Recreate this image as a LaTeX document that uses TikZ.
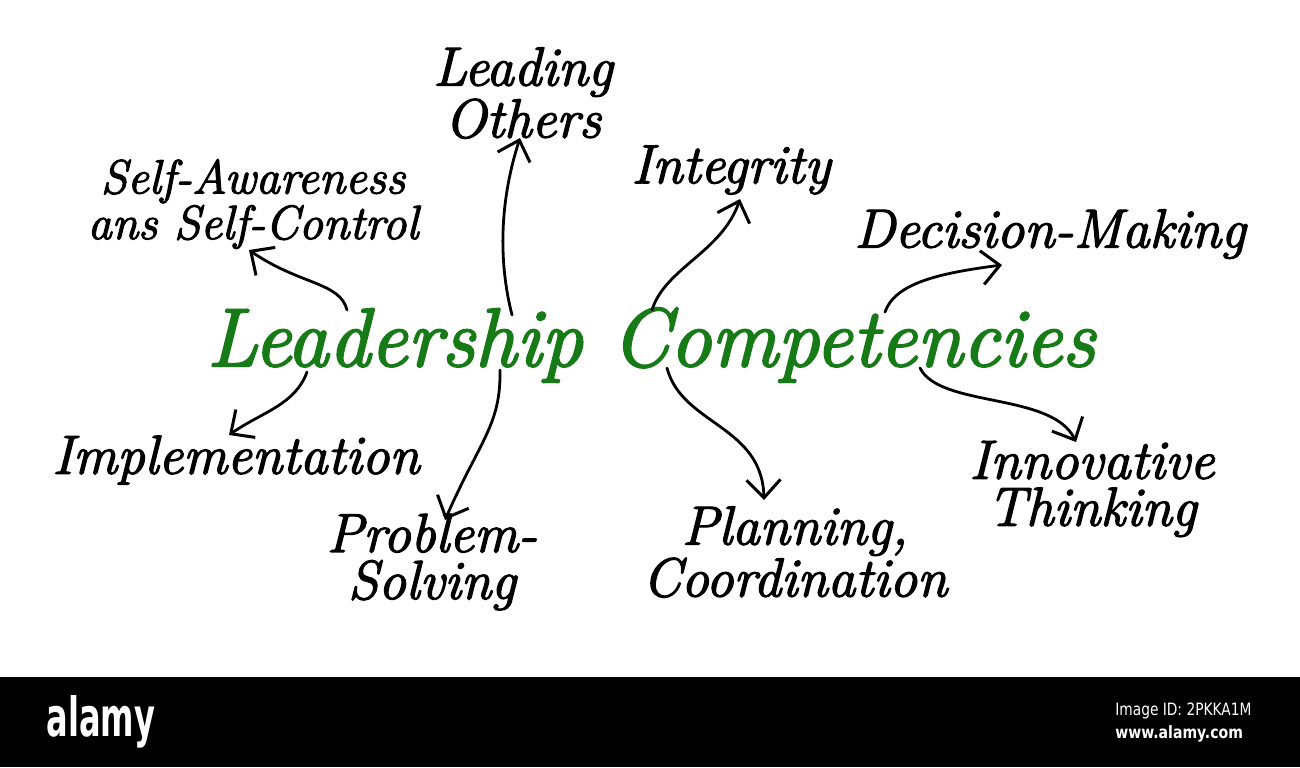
\documentclass[tikz,border=0pt]{standalone}
\usepackage{fontspec}
\newfontfamily\wmfont{DejaVu Sans Condensed}
\newfontfamily\hand{Latin Modern Roman}[FakeBold=2.4]
\usetikzlibrary{arrows.meta}
\definecolor{leadgreen}{RGB}{22,122,22}
\tikzset{
  lbl/.style={font=\hand\itshape\fontsize{27.5}{23.5}\selectfont, align=center, inner sep=0pt, text=black},
  lblsmall/.style={lbl, font=\hand\itshape\fontsize{24}{20.5}\selectfont},
  title/.style={font=\hand\itshape\fontsize{41.5}{44}\selectfont, inner sep=0pt, text=leadgreen},
  conn/.style={line width=1.4pt, line cap=round, -{Straight Barb[length=9pt,width=17pt,line width=1.5pt]}},
  wm/.style={text=white, inner sep=0pt}
}
\begin{document}
\begin{tikzpicture}[x=0.5pt,y=-0.5pt]
\useasboundingbox (0,0) rectangle (1300,767);
\fill[white] (0,0) rectangle (1300,677);
\fill[black] (0,677) rectangle (1300,767);
% watermark bar
\node[wm, font=\wmfont\bfseries\fontsize{27}{28}\selectfont, xscale=0.66, transform shape] (alamy) at (101,722) {alamy};
\node[wm, font=\wmfont\fontsize{8.5}{9}\selectfont, anchor=west, xscale=0.9, transform shape] (imgid) at (1115,711) {Image ID: 2PKKA1M};
\node[wm, font=\wmfont\bfseries\fontsize{8.5}{9}\selectfont, anchor=west, xscale=0.92, transform shape] (www) at (1115,734) {www.alamy.com};
% title
\node[title] (main) at (651,345) {Leadership Competencies};
% labels
\node[lbl] (lead) at (523,93) {Leading\\Others};
\node[lblsmall] (self) at (253,204) {Self-Awareness\\ans Self-Control};
\node[lbl] (integ) at (731,170) {Integrity};
\node[lbl] (dec) at (1050,234) {Decision-Making};
\node[lbl] (impl) at (236,460) {Implementation};
\node[lbl] (innov) at (1092,489) {Innovative\\Thinking};
\node[lbl] (prob) at (432,562) {Problem-\\Solving};
\node[lbl] (plan) at (795,552) {Planning,\\Coordination};
% anchor points on the title
\coordinate (sS) at (347,310);
\coordinate (sI) at (307,372);
\coordinate (sL) at (512,315);
\coordinate (sP) at (500,370);
\coordinate (sG) at (652,310);
\coordinate (sC) at (667,368);
\coordinate (sD) at (885,312);
\coordinate (sN) at (920,368);
\coordinate (tS) at (249,250);
\coordinate (tI) at (229,435);
\coordinate (tL) at (520,138);
\coordinate (tP) at (445,520);
\coordinate (tG) at (740,199);
\coordinate (tC) at (764,500);
\coordinate (tD) at (1002,265);
\coordinate (tN) at (1076,442);
% connectors
\draw[conn] (sS) .. controls (340,282) and (300,285) .. (tS);
\draw[conn] (sI) .. controls (295,405) and (262,412) .. (tI);
\draw[conn] (sL) .. controls (498,260) and (500,200) .. (tL);
\draw[conn] (sP) .. controls (501,425) and (480,440) .. (tP);
\draw[conn] (sG) .. controls (665,268) and (722,252) .. (tG);
\draw[conn] (sC) .. controls (682,425) and (762,425) .. (tC);
\draw[conn] (sD) .. controls (895,283) and (940,273) .. (tD);
\draw[conn] (sN) .. controls (940,408) and (1052,392) .. (tN);
\end{tikzpicture}
\end{document}
